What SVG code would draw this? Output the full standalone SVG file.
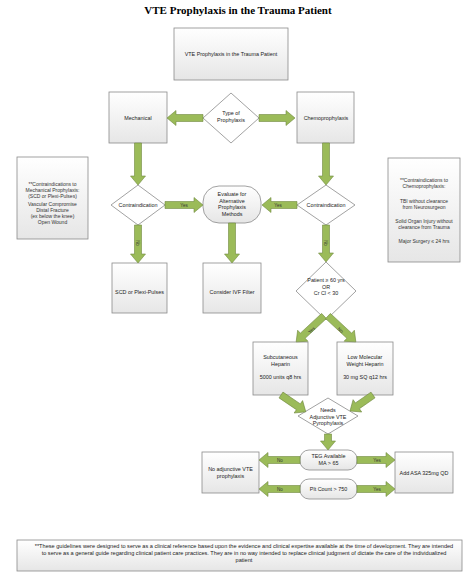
<svg xmlns="http://www.w3.org/2000/svg" width="474" height="575" viewBox="0 0 474 575">
<defs>
<linearGradient id="bg" x1="0" y1="0" x2="0" y2="1">
<stop offset="0" stop-color="#ffffff"/>
<stop offset="1" stop-color="#e6e6e6"/>
</linearGradient>
<style>
.box{fill:url(#bg);stroke:#8a8a8a;stroke-width:0.8}
.dia{fill:#ffffff;stroke:#8a8a8a;stroke-width:0.8}
.t{font-family:"Liberation Sans",Arial,sans-serif;font-size:5.4px;fill:#222;text-anchor:middle}
.s{font-family:"Liberation Sans",Arial,sans-serif;font-size:5px;fill:#333;text-anchor:middle}
.lab{font-family:"Liberation Sans",Arial,sans-serif;font-size:4.5px;fill:#333;text-anchor:middle}
.f{font-family:"Liberation Sans",Arial,sans-serif;font-size:5.6px;fill:#222;text-anchor:middle}
.arr{fill:#9bbb59;stroke:#71893f;stroke-width:0.6}
.title{font-family:"Liberation Serif","Times New Roman",serif;font-size:11px;font-weight:bold;fill:#000;text-anchor:middle}
</style>
</defs>
<rect width="474" height="575" fill="#ffffff"/>
<text class="title" x="238" y="14">VTE Prophylaxis in the Trauma Patient</text>

<g id="start"><rect class="box" x="174" y="28" width="114" height="52"/><text class="t" x="231" y="56">VTE Prophylaxis in the Trauma Patient</text></g>
<g id="type"><polygon class="dia" points="231,93 259,118 231,143 203,118"/><text class="t" x="231" y="115">Type of</text><text class="t" x="231" y="122">Prophylaxis</text></g>
<g id="mechanical"><rect class="box" x="109" y="92" width="58" height="51"/><text class="t" x="138" y="120">Mechanical</text></g>
<g id="chemo"><rect class="box" x="297" y="92" width="57" height="51"/><text class="t" x="326" y="120">Chemoprophylaxis</text></g>
<g id="mech-ci"><rect class="box" x="17" y="157" width="71" height="82"/>
<text class="s" x="52.5" y="186">**Contraindications to</text>
<text class="s" x="52.5" y="192">Mechanical Prophylaxis:</text>
<text class="s" x="52.5" y="198">(SCD or Plexi-Pulses)</text>
<text class="s" x="52.5" y="206">Vascular Compromise</text>
<text class="s" x="52.5" y="212">Distal Fracture</text>
<text class="s" x="52.5" y="218">(ex below the knee)</text>
<text class="s" x="52.5" y="224">Open Wound</text></g>
<g id="chemo-ci"><rect class="box" x="388" y="158" width="72" height="104"/>
<text class="s" x="424" y="182">**Contraindications to</text>
<text class="s" x="424" y="188">Chemoprophylaxis:</text>
<text class="s" x="424" y="203">TBI without clearance</text>
<text class="s" x="424" y="209">from Neurosurgeon</text>
<text class="s" x="424" y="223">Solid Organ Injury without</text>
<text class="s" x="424" y="229">clearance from Trauma</text>
<text class="s" x="424" y="243">Major Surgery ≤ 24 hrs</text></g>
<g id="contra-left"><polygon class="dia" points="138,185 165,205 138,225 111,205"/><text class="t" x="138" y="207">Contraindication</text></g>
<g id="evaluate"><rect class="box" x="203" y="186" width="58" height="37" rx="16" ry="16"/><text class="t" x="232" y="196">Evaluate for</text><text class="t" x="232" y="202.5">Alternative</text><text class="t" x="232" y="209">Prophylaxis</text><text class="t" x="232" y="215.5">Methods</text></g>
<g id="contra-right"><polygon class="dia" points="326,185 355,205 326,225 297,205"/><text class="t" x="326" y="207">Contraindication</text></g>
<g id="scd"><rect class="box" x="112" y="263" width="55" height="50"/><text class="t" x="139.5" y="294">SCD or Plexi-Pulses</text></g>
<g id="ivf"><rect class="box" x="203" y="263" width="58" height="50"/><text class="t" x="232" y="294">Consider IVF Filter</text></g>
<g id="patient"><polygon class="dia" points="326,262 356,291 326,320 296,291"/><text class="t" x="326" y="282">Patient ≥ 60 yrs</text><text class="t" x="326" y="288.5">OR</text><text class="t" x="326" y="295">Cr Cl &lt; 30</text></g>
<g id="subq"><rect class="box" x="253" y="342" width="55" height="53"/><text class="t" x="280.5" y="359">Subcutaneous</text><text class="t" x="280.5" y="365.5">Heparin</text><text class="t" x="280.5" y="379">5000 units q8 hrs</text></g>
<g id="lmwh"><rect class="box" x="337" y="342" width="56" height="53"/><text class="t" x="365" y="359">Low Molecular</text><text class="t" x="365" y="365.5">Weight Heparin</text><text class="t" x="365" y="379">30 mg SQ q12 hrs</text></g>
<g id="needs"><polygon class="dia" points="328,398 358,416 328,434 298,416"/><text class="t" x="328" y="412">Needs</text><text class="t" x="328" y="418.5">Adjunctive VTE</text><text class="t" x="328" y="425">Pyrophylaxis</text></g>
<g id="teg"><rect class="box" x="300" y="450" width="57" height="20" rx="9" ry="9"/><text class="t" x="328.5" y="458">TEG Available</text><text class="t" x="328.5" y="465">MA &gt; 65</text></g>
<g id="plt"><rect class="box" x="300" y="479" width="57" height="20" rx="9" ry="9"/><text class="t" x="328.5" y="491">Plt Count &gt; 750</text></g>
<g id="no-adj"><rect class="box" x="202" y="452" width="57" height="41"/><text class="t" x="230.5" y="471">No adjunctive VTE</text><text class="t" x="230.5" y="477.5">prophylaxis</text></g>
<g id="asa"><rect class="box" x="395" y="452" width="58" height="41"/><text class="t" x="424" y="475">Add ASA 325mg QD</text></g>
<g id="footer"><rect class="box" x="17" y="540" width="445" height="31"/>
<text class="f" x="244" y="547.5">**These guidelines were designed to serve as a clinical reference based upon the evidence and clinical expertise available at the time of development. They are intended</text>
<text class="f" x="244" y="554.5">to serve as a general guide regarding clinical patient care practices. They are in no way intended to replace clinical judgment of dictate the care of the individualized</text>
<text class="f" x="244" y="561.5">patient</text></g>

<g id="connectors">
<polygon class="arr" transform="translate(203,118) rotate(180)" points="0,-3.5 27,-3.5 27,-7.5 36,0 27,7.5 27,3.5 0,3.5"/>
<polygon class="arr" transform="translate(259,118)" points="0,-3.5 27,-3.5 27,-7.5 36,0 27,7.5 27,3.5 0,3.5"/>
<polygon class="arr" transform="translate(138,143) rotate(90)" points="0,-3.5 33,-3.5 33,-7.5 42,0 33,7.5 33,3.5 0,3.5"/>
<polygon class="arr" transform="translate(326,143) rotate(90)" points="0,-3.5 33,-3.5 33,-7.5 42,0 33,7.5 33,3.5 0,3.5"/>
<polygon class="arr" transform="translate(165,205)" points="0,-3.5 29,-3.5 29,-7.5 38,0 29,7.5 29,3.5 0,3.5"/>
<polygon class="arr" transform="translate(297,205) rotate(180)" points="0,-3.5 26,-3.5 26,-7.5 35,0 26,7.5 26,3.5 0,3.5"/>
<polygon class="arr" transform="translate(138,225) rotate(90)" points="0,-3.5 29,-3.5 29,-7.5 38,0 29,7.5 29,3.5 0,3.5"/>
<polygon class="arr" transform="translate(232,223) rotate(90)" points="0,-3.5 31,-3.5 31,-7.5 40,0 31,7.5 31,3.5 0,3.5"/>
<polygon class="arr" transform="translate(326,225) rotate(90)" points="0,-3.5 28,-3.5 28,-7.5 37,0 28,7.5 28,3.5 0,3.5"/>
<polygon class="arr" transform="translate(324,316) rotate(137.1)" points="0,-3.5 29,-3.5 29,-7.5 38,0 29,7.5 29,3.5 0,3.5"/>
<polygon class="arr" transform="translate(328,316) rotate(42.9)" points="0,-3.5 29,-3.5 29,-7.5 38,0 29,7.5 29,3.5 0,3.5"/>
<polygon class="arr" transform="translate(281,395) rotate(34.2)" points="0,-3.5 21,-3.5 21,-7.5 30,0 21,7.5 21,3.5 0,3.5"/>
<polygon class="arr" transform="translate(373,395) rotate(145.2)" points="0,-3.5 19,-3.5 19,-7.5 28,0 19,7.5 19,3.5 0,3.5"/>
<polygon class="arr" transform="translate(328,434) rotate(90)" points="0,-3.5 7,-3.5 7,-7.5 16,0 7,7.5 7,3.5 0,3.5"/>
<polygon class="arr" transform="translate(300,460) rotate(180)" points="0,-3.5 32,-3.5 32,-7.5 41,0 32,7.5 32,3.5 0,3.5"/>
<polygon class="arr" transform="translate(357,460)" points="0,-3.5 29,-3.5 29,-7.5 38,0 29,7.5 29,3.5 0,3.5"/>
<polygon class="arr" transform="translate(300,489) rotate(180)" points="0,-3.5 32,-3.5 32,-7.5 41,0 32,7.5 32,3.5 0,3.5"/>
<polygon class="arr" transform="translate(357,489)" points="0,-3.5 29,-3.5 29,-7.5 38,0 29,7.5 29,3.5 0,3.5"/>
<text class="lab" x="184" y="206.6">Yes</text>
<text class="lab" x="278" y="206.6">Yes</text>
<text class="lab" transform="translate(136.4,243) rotate(90)">No</text>
<text class="lab" transform="translate(324.4,243) rotate(90)">No</text>
<text class="lab" transform="translate(311.5,330) rotate(-42.9) translate(0,1.6)">Yes</text>
<text class="lab" transform="translate(340.5,330) rotate(42.9) translate(0,1.6)">No</text>
<text class="lab" x="280" y="461.6">No</text>
<text class="lab" x="377" y="461.6">Yes</text>
<text class="lab" x="280" y="490.6">No</text>
<text class="lab" x="377" y="490.6">Yes</text>
</g>
</svg>
